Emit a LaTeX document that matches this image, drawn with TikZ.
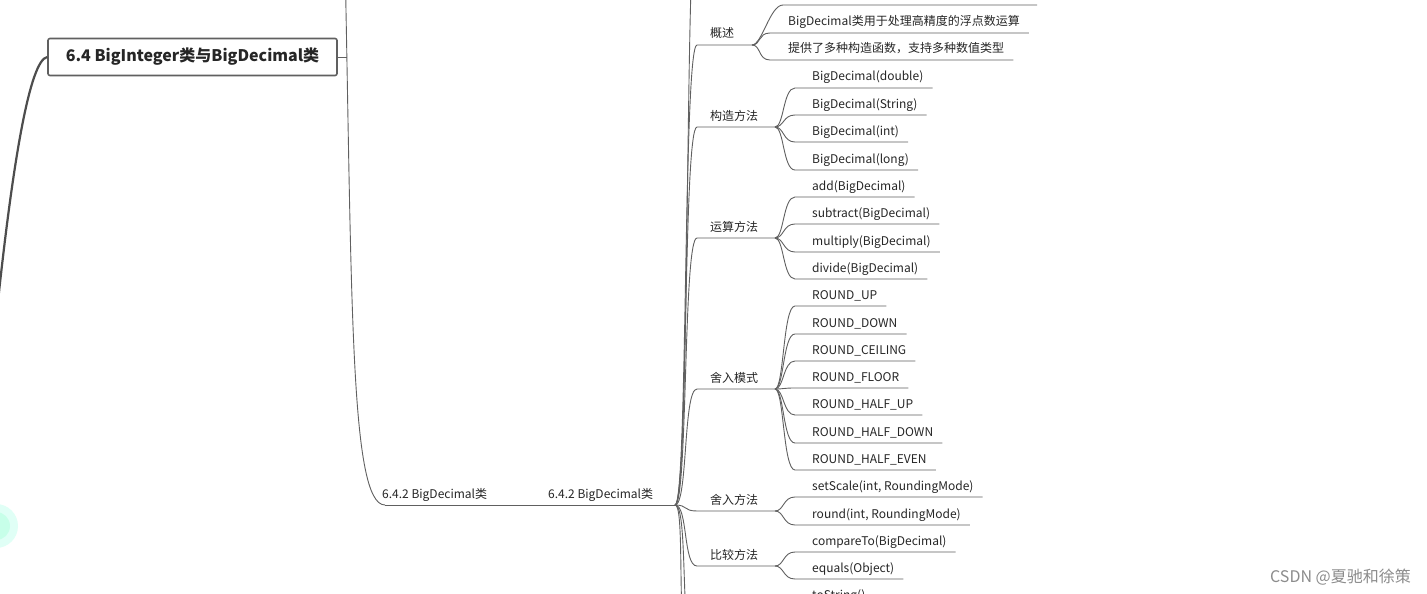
\documentclass[tikz,border=0pt]{standalone}
\usepackage{fontspec}
\setmainfont{Noto Sans CJK SC}
\usetikzlibrary{calc}
\definecolor{ln}{HTML}{606060}
\definecolor{tx}{HTML}{262626}
\tikzset{
  conn/.style={draw=ln, line width=0.9pt},
  leaf/.style={anchor=base west, inner sep=0pt, text=tx, font=\fontsize{12}{14}\selectfont},
  cat/.style={anchor=base west, inner sep=0pt, text=tx, font=\fontsize{12}{14}\selectfont},
}
\newcommand\leafnode[6]{%
  \coordinate (#1s) at (#2,#4);
  \node[leaf] (#1) at (#3,#4-7) {#5};
  \draw[conn] (#6) .. controls ($(#6)+(9,0)$) and ($(#1s)+(-12,0)$) .. (#1s) -- ($(#1.east |- #1s)+(9,0)$);
}
\begin{document}
\begin{tikzpicture}[x=1pt,y=-1pt]
\useasboundingbox (0,0) rectangle (1427,594);
\clip (0,0) rectangle (1427,594);
\fill[white] (0,0) rectangle (1427,594);
\fill[green!30!cyan!12] (-4,526) circle (22);
\fill[green!40!cyan!22] (-4,526) circle (14);
\node[draw=ln, line width=1.6pt, rounded corners=2pt, fill=white, text=tx,
  minimum width=289pt, minimum height=37pt, inner sep=0pt,
  font=\bfseries\fontsize{16}{18}\selectfont] (root) at (192.5,57) {6.4 BigInteger类与BigDecimal类};
\draw[draw=ln!80!black, line width=2.2pt] (root.west) .. controls (30,60) and (12,160) .. (-6,340);
\coordinate (trk) at (347,57);
\draw[conn] (root.east) -- (trk);
\coordinate (b1s) at (385,505);
\draw[conn] (345,-40) .. controls (352,300) and (350,505) .. (b1s);
\node[cat] (b1) at (382,498) {6.4.2 BigDecimal类};
\node[cat] (b2) at (548,498) {6.4.2 BigDecimal类};
\coordinate (f2) at (675,505);
\draw[conn] (b1s) -- (f2);
\newcommand\catnode[4]{%
  \coordinate (#1s) at (697,#2);
  \coordinate (#1e) at (#4,#2);
  \node[cat] (#1) at (710,#2-7) {#3};
  \draw[conn] (f2) .. controls (688,505) and (683,#2) .. (#1s) -- (#1e);
}
\draw[conn] (f2) .. controls (688,505) and (686,100) .. (692,-40);
\draw[conn] (f2) .. controls (682,505) and (680,560) .. (682,620);
\draw[conn] (f2) .. controls (684,505) and (683,560) .. (686,620);
\catnode{c1}{45}{概述}{752}
\catnode{c2}{127}{构造方法}{775}
\catnode{c3}{238}{运算方法}{775}
\catnode{c4}{389}{舍入模式}{775}
\catnode{c5}{511}{舍入方法}{775}
\catnode{c6}{566}{比较方法}{775}
\coordinate (t0s) at (783,5);
\draw[conn] (752,45) .. controls (762,45) and (770,5) .. (t0s) -- (1037,5);
\leafnode{a1}{770}{788}{33}{BigDecimal类用于处理高精度的浮点数运算}{c1e}
\leafnode{a2}{770}{788}{60}{提供了多种构造函数，支持多种数值类型}{c1e}
\leafnode{g1}{795}{812}{88}{BigDecimal(double)}{c2e}
\leafnode{g2}{795}{812}{115}{BigDecimal(String)}{c2e}
\leafnode{g3}{795}{812}{142}{BigDecimal(int)}{c2e}
\leafnode{g4}{795}{812}{170}{BigDecimal(long)}{c2e}
\leafnode{o1}{795}{812}{197}{add(BigDecimal)}{c3e}
\leafnode{o2}{795}{812}{224}{subtract(BigDecimal)}{c3e}
\leafnode{o3}{795}{812}{252}{multiply(BigDecimal)}{c3e}
\leafnode{o4}{795}{812}{279}{divide(BigDecimal)}{c3e}
\leafnode{r1}{795}{812}{306}{ROUND\_UP}{c4e}
\leafnode{r2}{795}{812}{334}{ROUND\_DOWN}{c4e}
\leafnode{r3}{795}{812}{361}{ROUND\_CEILING}{c4e}
\leafnode{r4}{795}{812}{388}{ROUND\_FLOOR}{c4e}
\leafnode{r5}{795}{812}{415}{ROUND\_HALF\_UP}{c4e}
\leafnode{r6}{795}{812}{443}{ROUND\_HALF\_DOWN}{c4e}
\leafnode{r7}{795}{812}{470}{ROUND\_HALF\_EVEN}{c4e}
\leafnode{s1}{795}{812}{497}{setScale(int, RoundingMode)}{c5e}
\leafnode{s2}{795}{812}{525}{round(int, RoundingMode)}{c5e}
\leafnode{p1}{795}{812}{552}{compareTo(BigDecimal)}{c6e}
\leafnode{p2}{795}{812}{579}{equals(Object)}{c6e}
\node[leaf] (ts) at (812,599) {toString()};
\node[anchor=base east, inner sep=0pt, text=black!45, font=\fontsize{16}{18}\selectfont] (wm) at (1411,582) {CSDN @夏驰和徐策};
\end{tikzpicture}
\end{document}
